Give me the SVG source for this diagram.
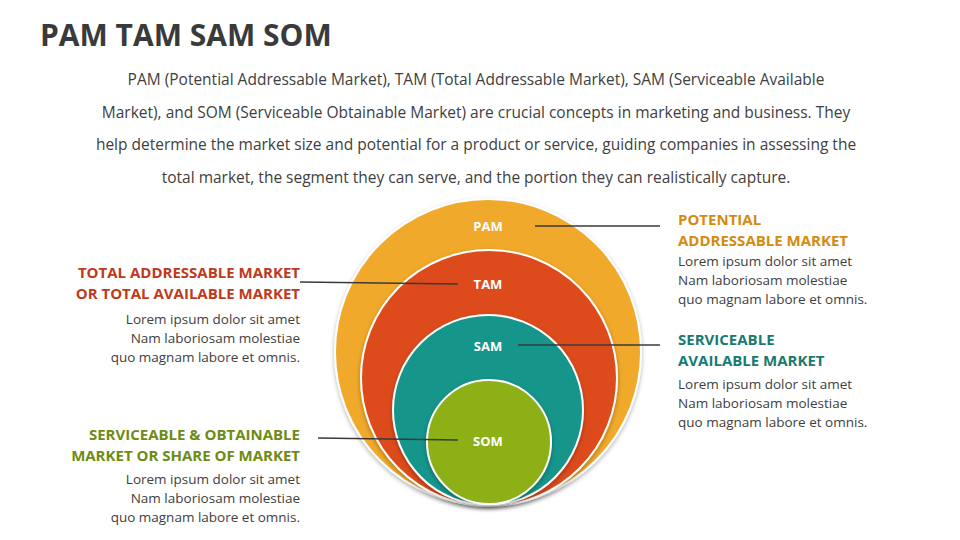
<svg xmlns="http://www.w3.org/2000/svg" width="960" height="540" viewBox="0 0 960 540">
<style>
text{font-family:"Open Sans","Liberation Sans",sans-serif}
.t{font-size:30px;font-weight:bold;fill:#3a3a3a}
.p{font-size:15.5px;fill:#404040}
.h{font-size:15px;font-weight:bold}
.b{font-size:13.5px;fill:#404040}
.c{stroke:#fff;stroke-width:2;filter:url(#s)}
.n{font-size:13px;font-weight:bold;fill:#fff}
.l{stroke:#3a3a3a;stroke-width:1.3}
</style>
<defs><filter id="s" x="-10%" y="-10%" width="120%" height="120%"><feDropShadow dx="0" dy="2" stdDeviation="2" flood-opacity="0.3"/></filter></defs>
<rect width="960" height="540" fill="#fff"/>
<text class="t" x="40" y="46">PAM TAM SAM SOM</text>
<g class="p" text-anchor="middle">
<text x="476" y="85">PAM (Potential Addressable Market), TAM (Total Addressable Market), SAM (Serviceable Available</text>
<text x="476" y="118">Market), and SOM (Serviceable Obtainable Market) are crucial concepts in marketing and business. They</text>
<text x="476" y="150">help determine the market size and potential for a product or service, guiding companies in assessing the</text>
<text x="476" y="183">total market, the segment they can serve, and the portion they can realistically capture.</text>
</g>
<g id="pam"><circle class="c" cx="488" cy="352" r="153" fill="#F0A92A"/><text class="n" x="488" y="231" text-anchor="middle">PAM</text></g>
<g id="tam"><circle class="c" cx="489" cy="378" r="128" fill="#DD4B1A"/><text class="n" x="488" y="289" text-anchor="middle">TAM</text></g>
<g id="sam"><circle class="c" cx="488" cy="410" r="95" fill="#12958A"/><text class="n" x="488" y="351" text-anchor="middle">SAM</text></g>
<g id="som"><circle class="c" cx="489" cy="442" r="62" fill="#8CB018"/><text class="n" x="488" y="446" text-anchor="middle">SOM</text></g>
<g id="connectors">
<line class="l" x1="535" y1="226" x2="660" y2="226"/>
<line class="l" x1="300" y1="282" x2="458" y2="284"/>
<line class="l" x1="518" y1="345" x2="660" y2="345"/>
<line class="l" x1="318" y1="438" x2="458" y2="440"/>
</g>
<g id="pam-label">
<text class="h" x="678" y="225" fill="#D38B10">POTENTIAL</text>
<text class="h" x="678" y="246" fill="#D38B10">ADDRESSABLE MARKET</text>
<text class="b" x="678" y="266">Lorem ipsum dolor sit amet</text>
<text class="b" x="678" y="285">Nam laboriosam molestiae</text>
<text class="b" x="678" y="304">quo magnam labore et omnis.</text>
</g>
<g id="sam-label">
<text class="h" x="678" y="345" fill="#187A70">SERVICEABLE</text>
<text class="h" x="678" y="366" fill="#187A70">AVAILABLE MARKET</text>
<text class="b" x="678" y="389">Lorem ipsum dolor sit amet</text>
<text class="b" x="678" y="408">Nam laboriosam molestiae</text>
<text class="b" x="678" y="427">quo magnam labore et omnis.</text>
</g>
<g id="tam-label" text-anchor="end">
<text class="h" x="300" y="278" fill="#C0391B">TOTAL ADDRESSABLE MARKET</text>
<text class="h" x="300" y="299" fill="#C0391B">OR TOTAL AVAILABLE MARKET</text>
<text class="b" x="300" y="324">Lorem ipsum dolor sit amet</text>
<text class="b" x="300" y="343">Nam laboriosam molestiae</text>
<text class="b" x="300" y="362">quo magnam labore et omnis.</text>
</g>
<g id="som-label" text-anchor="end">
<text class="h" x="300" y="440" fill="#6E8B13">SERVICEABLE &amp; OBTAINABLE</text>
<text class="h" x="300" y="461" fill="#6E8B13">MARKET OR SHARE OF MARKET</text>
<text class="b" x="300" y="484">Lorem ipsum dolor sit amet</text>
<text class="b" x="300" y="503">Nam laboriosam molestiae</text>
<text class="b" x="300" y="522">quo magnam labore et omnis.</text>
</g>
</svg>
